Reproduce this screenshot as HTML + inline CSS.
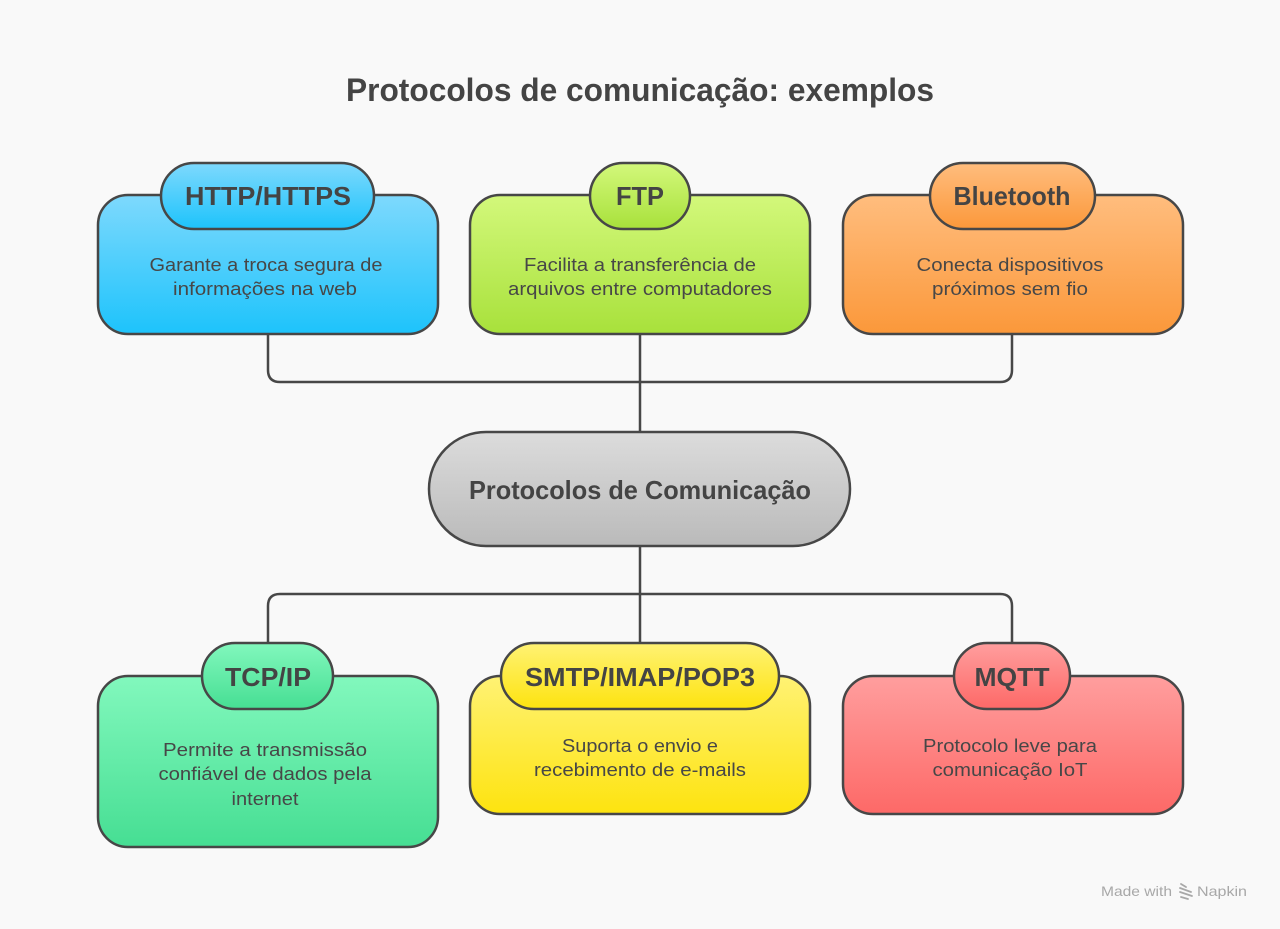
<!DOCTYPE html>
<html>
<head>
<meta charset="utf-8">
<style>
  html, body { margin: 0; padding: 0; background: #f9f9f9; }
  svg { display: block; }
  text { font-family: "Liberation Sans", "DejaVu Sans", sans-serif; }
  .t { font-weight: bold; fill: #444444; font-size: 26px; }
  .d { fill: #474747; font-size: 18px; }
</style>
</head>
<body>
<svg width="1280" height="929" viewBox="0 0 1280 929" xmlns="http://www.w3.org/2000/svg">
  <defs>
    <linearGradient id="gBlue" x1="0" y1="0" x2="0" y2="1"><stop offset="0" stop-color="#7ed9fd"/><stop offset="1" stop-color="#1dc3fb"/></linearGradient>
    <linearGradient id="gGreen" x1="0" y1="0" x2="0" y2="1"><stop offset="0" stop-color="#d3f87b"/><stop offset="1" stop-color="#a8e13b"/></linearGradient>
    <linearGradient id="gOrange" x1="0" y1="0" x2="0" y2="1"><stop offset="0" stop-color="#ffbd7e"/><stop offset="1" stop-color="#fb983a"/></linearGradient>
    <linearGradient id="gMint" x1="0" y1="0" x2="0" y2="1"><stop offset="0" stop-color="#82f8bd"/><stop offset="1" stop-color="#46de93"/></linearGradient>
    <linearGradient id="gYellow" x1="0" y1="0" x2="0" y2="1"><stop offset="0" stop-color="#fff274"/><stop offset="1" stop-color="#fde30f"/></linearGradient>
    <linearGradient id="gRed" x1="0" y1="0" x2="0" y2="1"><stop offset="0" stop-color="#ff9e9e"/><stop offset="1" stop-color="#fd6967"/></linearGradient>
    <linearGradient id="gGray" x1="0" y1="0" x2="0" y2="1"><stop offset="0" stop-color="#dcdcdc"/><stop offset="1" stop-color="#bababa"/></linearGradient>
  </defs>

  <rect width="1280" height="929" fill="#f9f9f9"/>

  <!-- Title -->
  <text x="640" y="101" text-anchor="middle" font-size="32" font-weight="bold" fill="#444444" textLength="588" lengthAdjust="spacingAndGlyphs">Protocolos de comunicação: exemplos</text>

  <!-- Connectors -->
  <g fill="none" stroke="#474747" stroke-width="2.5">
    <path d="M268 334 V370 Q268 382 280 382 H1000 Q1012 382 1012 370 V334"/>
    <path d="M640 334 V431"/>
    <path d="M640 546 V643"/>
    <path d="M268 643 V606 Q268 594 280 594 H1000 Q1012 594 1012 606 V643"/>
  </g>

  <!-- Top row boxes -->
  <g stroke="#474747" stroke-width="2.5">
    <rect x="98" y="195" width="340" height="139" rx="30" fill="url(#gBlue)"/>
    <rect x="161" y="163" width="213" height="66" rx="33" fill="url(#gBlue)"/>

    <rect x="470" y="195" width="340" height="139" rx="30" fill="url(#gGreen)"/>
    <rect x="590" y="163" width="100" height="66" rx="33" fill="url(#gGreen)"/>

    <rect x="843" y="195" width="340" height="139" rx="30" fill="url(#gOrange)"/>
    <rect x="930" y="163" width="165" height="66" rx="33" fill="url(#gOrange)"/>
  </g>

  <text class="t" x="268" y="205" text-anchor="middle" textLength="166" lengthAdjust="spacingAndGlyphs">HTTP/HTTPS</text>
  <text class="t" x="640" y="205" text-anchor="middle" textLength="48" lengthAdjust="spacingAndGlyphs">FTP</text>
  <text class="t" x="1012" y="205" text-anchor="middle" textLength="117" lengthAdjust="spacingAndGlyphs">Bluetooth</text>

  <text class="d" x="266" y="271" text-anchor="middle" textLength="233" lengthAdjust="spacingAndGlyphs">Garante a troca segura de</text>
  <text class="d" x="265" y="295" text-anchor="middle" textLength="184" lengthAdjust="spacingAndGlyphs">informações na web</text>

  <text class="d" x="640" y="271" text-anchor="middle" textLength="232" lengthAdjust="spacingAndGlyphs">Facilita a transferência de</text>
  <text class="d" x="640" y="295" text-anchor="middle" textLength="264" lengthAdjust="spacingAndGlyphs">arquivos entre computadores</text>

  <text class="d" x="1010" y="271" text-anchor="middle" textLength="187" lengthAdjust="spacingAndGlyphs">Conecta dispositivos</text>
  <text class="d" x="1010" y="295" text-anchor="middle" textLength="156" lengthAdjust="spacingAndGlyphs">próximos sem fio</text>

  <!-- Central pill -->
  <rect x="429" y="432" width="421" height="114" rx="57" fill="url(#gGray)" stroke="#474747" stroke-width="2.5"/>
  <text class="t" x="640" y="499" text-anchor="middle" textLength="342" lengthAdjust="spacingAndGlyphs">Protocolos de Comunicação</text>

  <!-- Bottom row boxes -->
  <g stroke="#474747" stroke-width="2.5">
    <rect x="98" y="676" width="340" height="171" rx="30" fill="url(#gMint)"/>
    <rect x="202" y="643" width="131" height="66" rx="33" fill="url(#gMint)"/>

    <rect x="470" y="676" width="340" height="138" rx="30" fill="url(#gYellow)"/>
    <rect x="501" y="643" width="278" height="66" rx="33" fill="url(#gYellow)"/>

    <rect x="843" y="676" width="340" height="138" rx="30" fill="url(#gRed)"/>
    <rect x="954" y="643" width="116" height="66" rx="33" fill="url(#gRed)"/>
  </g>

  <text class="t" x="268" y="686" text-anchor="middle" textLength="86" lengthAdjust="spacingAndGlyphs">TCP/IP</text>
  <text class="t" x="640" y="686" text-anchor="middle" textLength="230" lengthAdjust="spacingAndGlyphs">SMTP/IMAP/POP3</text>
  <text class="t" x="1012" y="686" text-anchor="middle" textLength="75" lengthAdjust="spacingAndGlyphs">MQTT</text>

  <text class="d" x="265" y="756" text-anchor="middle" textLength="204" lengthAdjust="spacingAndGlyphs">Permite a transmissão</text>
  <text class="d" x="265" y="780" text-anchor="middle" textLength="213" lengthAdjust="spacingAndGlyphs">confiável de dados pela</text>
  <text class="d" x="265" y="805" text-anchor="middle" textLength="67" lengthAdjust="spacingAndGlyphs">internet</text>

  <text class="d" x="640" y="752" text-anchor="middle" textLength="156" lengthAdjust="spacingAndGlyphs">Suporta o envio e</text>
  <text class="d" x="640" y="776" text-anchor="middle" textLength="212" lengthAdjust="spacingAndGlyphs">recebimento de e-mails</text>

  <text class="d" x="1010" y="752" text-anchor="middle" textLength="174" lengthAdjust="spacingAndGlyphs">Protocolo leve para</text>
  <text class="d" x="1010" y="776" text-anchor="middle" textLength="155" lengthAdjust="spacingAndGlyphs">comunicação IoT</text>

  <!-- Watermark -->
  <text x="1101" y="896" font-size="14" fill="#a8a8a8" textLength="71" lengthAdjust="spacingAndGlyphs">Made with</text>
  <g stroke="#a8a8a8" stroke-width="1.8" fill="none" stroke-linecap="round">
    <path d="M1181 884 L1186 887"/>
    <path d="M1180 888 L1191 892"/>
    <path d="M1180 892 L1192 896"/>
    <path d="M1181 897 L1188 899"/>
  </g>
  <text x="1197" y="896" font-size="14" fill="#a8a8a8" textLength="50" lengthAdjust="spacingAndGlyphs">Napkin</text>
</svg>
</body>
</html>
